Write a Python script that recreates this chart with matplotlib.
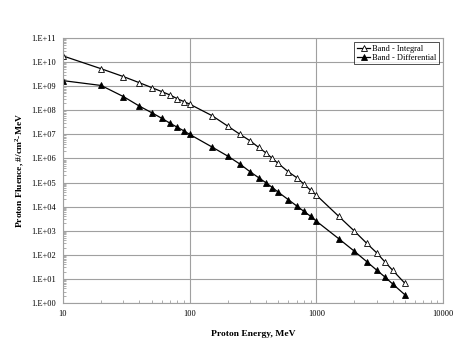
import matplotlib.pyplot as plt
from matplotlib.ticker import LogLocator, FixedLocator, NullFormatter

# proton energies, MeV
energy = [10, 20, 30, 40, 50, 60, 70, 80, 90, 100,
          150, 200, 250, 300, 350, 400, 450, 500, 600, 700, 800, 900, 1000,
          1500, 2000, 2500, 3000, 3500, 4000, 5000]

# fluence values
integral = [1.8e10, 5.3e9, 2.5e9, 1.4e9, 8.8e8, 6.0e8, 4.3e8, 3.0e8, 2.3e8, 1.8e8,
            6.0e7, 2.2e7, 1.0e7, 5.4e6, 2.9e6, 1.7e6, 1.0e6, 6.2e5, 2.8e5, 1.6e5,
            8.5e4, 4.8e4, 3.0e4,
            4.0e3, 9.6e2, 3.0e2, 1.2e2, 49, 23, 6.6]
differential = [1.7e9, 1.07e9, 3.7e8, 1.5e8, 8.0e7, 4.7e7, 2.9e7, 1.96e7, 1.4e7, 1.0e7,
                3.0e6, 1.25e6, 5.8e5, 2.8e5, 1.6e5, 9.8e4, 6.2e4, 4.0e4, 1.96e4, 1.07e4,
                6.3e3, 4.0e3, 2.5e3,
                4.7e2, 1.4e2, 52, 23, 11.7, 6.2, 2.2]

y_ticks = [10.0 ** k for k in range(0, 12)]
y_labels = ["1.E+%02d" % k for k in range(0, 12)]
x_ticks = [10, 100, 1000, 10000]
x_labels = ["10", "100", "1000", "10000"]

plt.rcParams['font.family'] = ['Liberation Serif', 'DejaVu Serif']

fig = plt.figure(figsize=(4.74, 3.55), dpi=100)
ax = fig.add_axes([63 / 474, 1 - 303 / 355, 380 / 474, 265 / 355])

ax.plot(energy, integral, color='black', lw=0.9, marker='^', ms=4.5,
        mfc='white', mec='black', mew=0.6, label='Band - Integral')
ax.plot(energy, differential, color='black', lw=0.9, marker='^', ms=4.5,
        mfc='black', mec='black', mew=0.6, label='Band - Differential')

ax.set_xscale('log')
ax.set_yscale('log')
ax.set_xlim(10, 10000)
ax.set_ylim(1, 1e11)

ax.yaxis.set_major_locator(FixedLocator(y_ticks))
ax.set_yticklabels(y_labels)
ax.yaxis.set_minor_locator(LogLocator(base=10, subs=range(2, 10), numticks=20))
ax.yaxis.set_minor_formatter(NullFormatter())
ax.xaxis.set_major_locator(FixedLocator(x_ticks))
ax.set_xticklabels(x_labels)
ax.xaxis.set_minor_locator(LogLocator(base=10, subs=range(2, 10), numticks=20))
ax.xaxis.set_minor_formatter(NullFormatter())

ax.grid(True, which='major', color='#a0a0a0', lw=0.8)
for s in ax.spines.values():
    s.set_color('#a0a0a0')
    s.set_linewidth(0.8)
ax.tick_params(which='major', length=0, labelsize=6, pad=5)
ax.tick_params(which='minor', length=2, color='#a0a0a0', direction='in')

ax.set_xlabel('Proton Energy, MeV', fontsize=6.8, fontweight='bold', labelpad=9)
ax.set_ylabel('Proton Fluence, #/cm$^{\\mathregular{2}}$-MeV', fontsize=6.8,
              fontweight='bold', labelpad=4)

leg = ax.legend(loc='upper right', fontsize=6, frameon=True, fancybox=False,
                edgecolor='black', borderpad=0.3, handlelength=1.6,
                handletextpad=0.2, labelspacing=0.1, borderaxespad=0.5)
leg.get_frame().set_linewidth(0.6)

plt.savefig('out.png', dpi=100)
